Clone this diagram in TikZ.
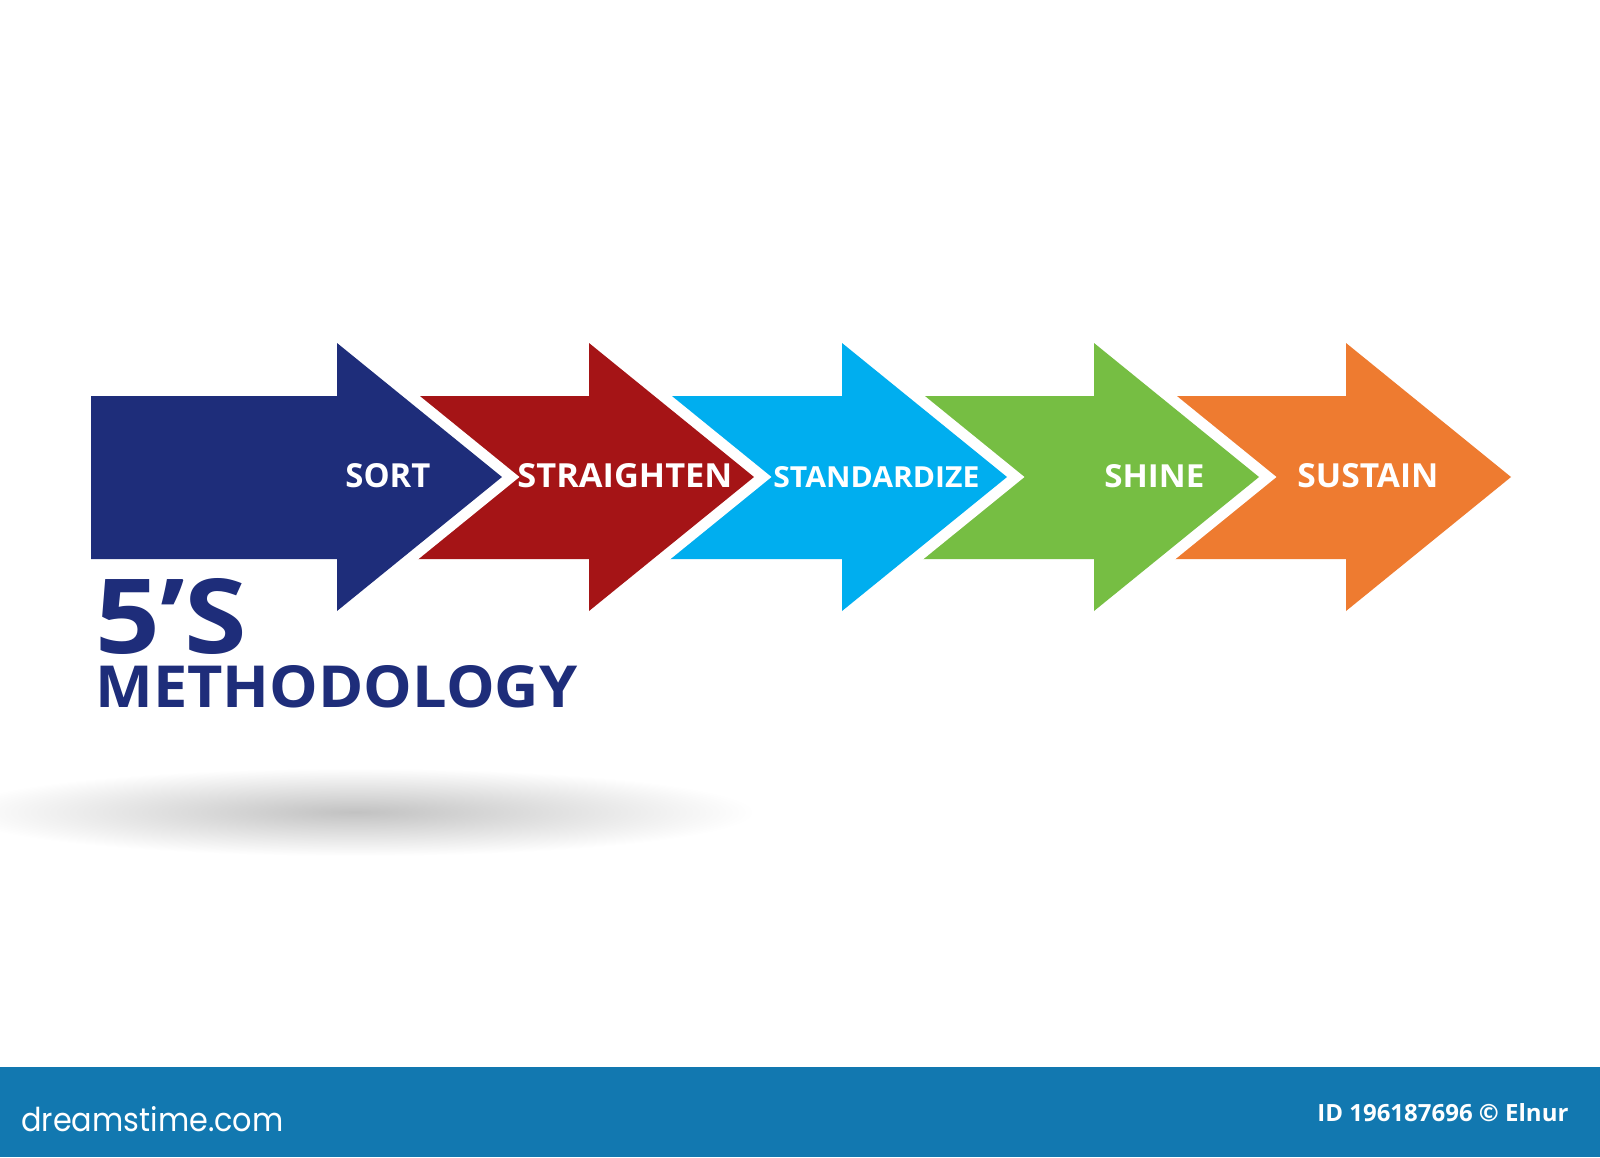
\documentclass[tikz,border=0pt]{standalone}
\usepackage{fontspec}
\usepackage{graphicx}
\setmainfont{Open Sans}
\newfontfamily\logofont{Poppins}
\usetikzlibrary{calc}
\definecolor{navyc}{HTML}{1E2D7A}
\definecolor{redc}{HTML}{A51416}
\definecolor{cyanc}{HTML}{00AEEF}
\definecolor{greenc}{HTML}{76BE43}
\definecolor{orangec}{HTML}{EE7B30}
\definecolor{bannerc}{HTML}{1278B0}
\newcommand{\fitbox}[3]{\resizebox{#1\dimexpr0.5pt\relax}{#2\dimexpr0.5pt\relax}{#3}}
\newcommand{\bigarrow}[3]{%
  \path[arrowbody=#3] (#1,396) -- (#2,396) -- (#2,343) -- ($(#2,477)+(165,0)$)
    -- (#2,611) -- (#2,559) -- (#1,559) -- cycle;}
\tikzset{
  arrowbody/.style={preaction={draw=white, line width=11pt, line join=miter}, fill=#1},
  steplabel/.style={anchor=base west, inner sep=0pt, text=white, font=\bfseries},
  titletext/.style={anchor=base west, inner sep=0pt, text=navyc, font=\bfseries},
  bannertext/.style={anchor=base west, inner sep=0pt, text=white}
}
\begin{document}
\begin{tikzpicture}[x=0.5pt,y=-0.5pt]
\useasboundingbox (0,0) rectangle (1600,1157);
\fill[white] (0,0) rectangle (1600,1157);
% shadow
\shade[inner color=black!24, outer color=white] (355,812) ellipse [x radius=400, y radius=44];
% arrows, drawn from last to first
\bigarrow{1104}{1346}{orangec}
\bigarrow{852}{1094}{greenc}
\bigarrow{599}{842}{cyanc}
\bigarrow{347}{589}{redc}
\bigarrow{91}{337}{navyc}
% labels
\node[steplabel] (sort) at (345,487) {\fitbox{85}{24}{SORT}};
\node[steplabel] (straighten) at (517,487) {\fitbox{215}{24}{STRAIGHTEN}};
\node[steplabel] (standardize) at (773,487) {\fitbox{206}{21}{STANDARDIZE}};
\node[steplabel] (shine) at (1104,487) {\fitbox{100}{23}{SHINE}};
\node[steplabel] (sustain) at (1297,487) {\fitbox{141}{24}{SUSTAIN}};
% title
\node[titletext] (fives) at (95,653) {\fitbox{152}{75}{5’S}};
\node[titletext] (method) at (95,707) {\fitbox{482}{42}{METHODOLOGY}};
% banner
\fill[bannerc] (0,1067) rectangle (1600,1157);
\node[bannertext] (logo) at (21,1131) {\fitbox{262}{25}{\logofont dreamstime.com}};
\node[bannertext] (credit) at (1317,1121) {\fitbox{251}{18}{\bfseries ID 196187696 © Elnur}};
\end{tikzpicture}
\end{document}
